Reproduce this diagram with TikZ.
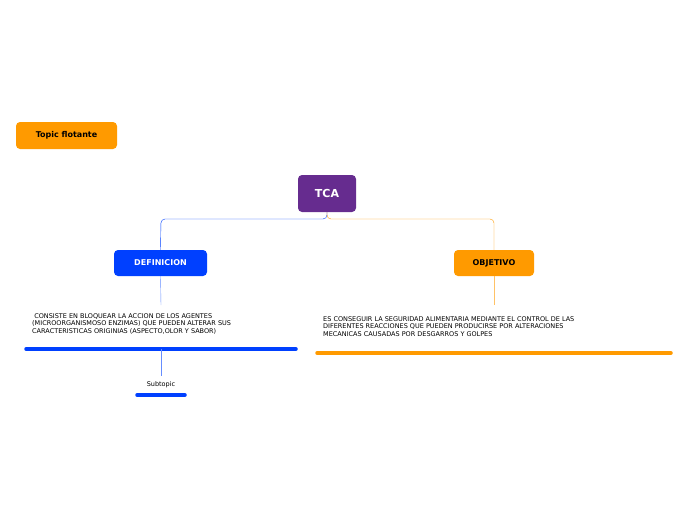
\documentclass[tikz,border=0pt]{standalone}
\usepackage{fontspec}
\setmainfont{DejaVu Sans}
\definecolor{org}{HTML}{FF9A00}
\definecolor{pur}{HTML}{662C8F}
\definecolor{blu}{HTML}{0040FF}
\begin{document}
\begin{tikzpicture}[x=1pt,y=-1pt,
  box/.style={rounded corners=4pt,inner sep=0pt,font=\bfseries\fontsize{8}{9}\selectfont},
  lbl/.style={font=\fontsize{6.5}{7.6}\selectfont,align=left,inner sep=0pt,anchor=north west},
  ul/.style={line width=3.5pt,line cap=round}]
\useasboundingbox (0,0) rectangle (696,520);
\node[box,fill=org,minimum width=101pt,minimum height=27pt] (tf) at (66.5,135.5) {Topic flotante};
\node[box,fill=pur,text=white,minimum width=58pt,minimum height=37pt,font=\bfseries\fontsize{11}{13}\selectfont] (tca) at (327,193.5) {TCA};
\node[box,fill=blu,text=white,minimum width=93pt,minimum height=26pt] (def) at (160.5,263) {DEFINICION};
\node[box,fill=org,minimum width=80pt,minimum height=26pt] (obj) at (494,263) {OBJETIVO};
\draw[blu,rounded corners=4pt] (tca.south) -- (327,219) -- (161,219) -- (def.north);
\draw[org,rounded corners=4pt] (tca.south) -- (327,219) -- (494,219) -- (obj.north);
\node[lbl] (t1) at (32,313) {\ CONSISTE EN BLOQUEAR LA ACCION DE LOS AGENTES\\(MICROORGANISMOSO ENZIMAS) QUE PUEDEN ALTERAR SUS\\CARACTERISTICAS ORIGINIAS (ASPECTO,OLOR Y SABOR)};
\coordinate (u1a) at (26,349); \coordinate (u1b) at (296,349); \coordinate (u1c) at (161,349);
\draw[ul,blu] (u1a) -- (u1b);
\coordinate (t1top) at (161,305);
\draw[blu!60,thin] (def.south) -- (t1top);
\node[font=\fontsize{6.5}{8}\selectfont] (sub) at (161,385) {Subtopic};
\coordinate (u2a) at (137,395); \coordinate (u2b) at (185,395);
\draw[ul,blu] (u2a) -- (u2b);
\draw[blu!60,thin] (u1c) -- (161,376);
\node[lbl] (t2) at (323,316) {ES CONSEGUIR LA SEGURIDAD ALIMENTARIA MEDIANTE EL CONTROL DE LAS\\DIFERENTES REACCIONES QUE PUEDEN PRODUCIRSE POR ALTERACIONES\\MECANICAS CAUSADAS POR DESGARROS Y GOLPES};
\coordinate (t2top) at (494,305);
\draw[org!60,thin] (obj.south) -- (t2top);
\coordinate (u3a) at (317,353); \coordinate (u3b) at (671,353);
\draw[ul,org] (u3a) -- (u3b);
\end{tikzpicture}
\end{document}
